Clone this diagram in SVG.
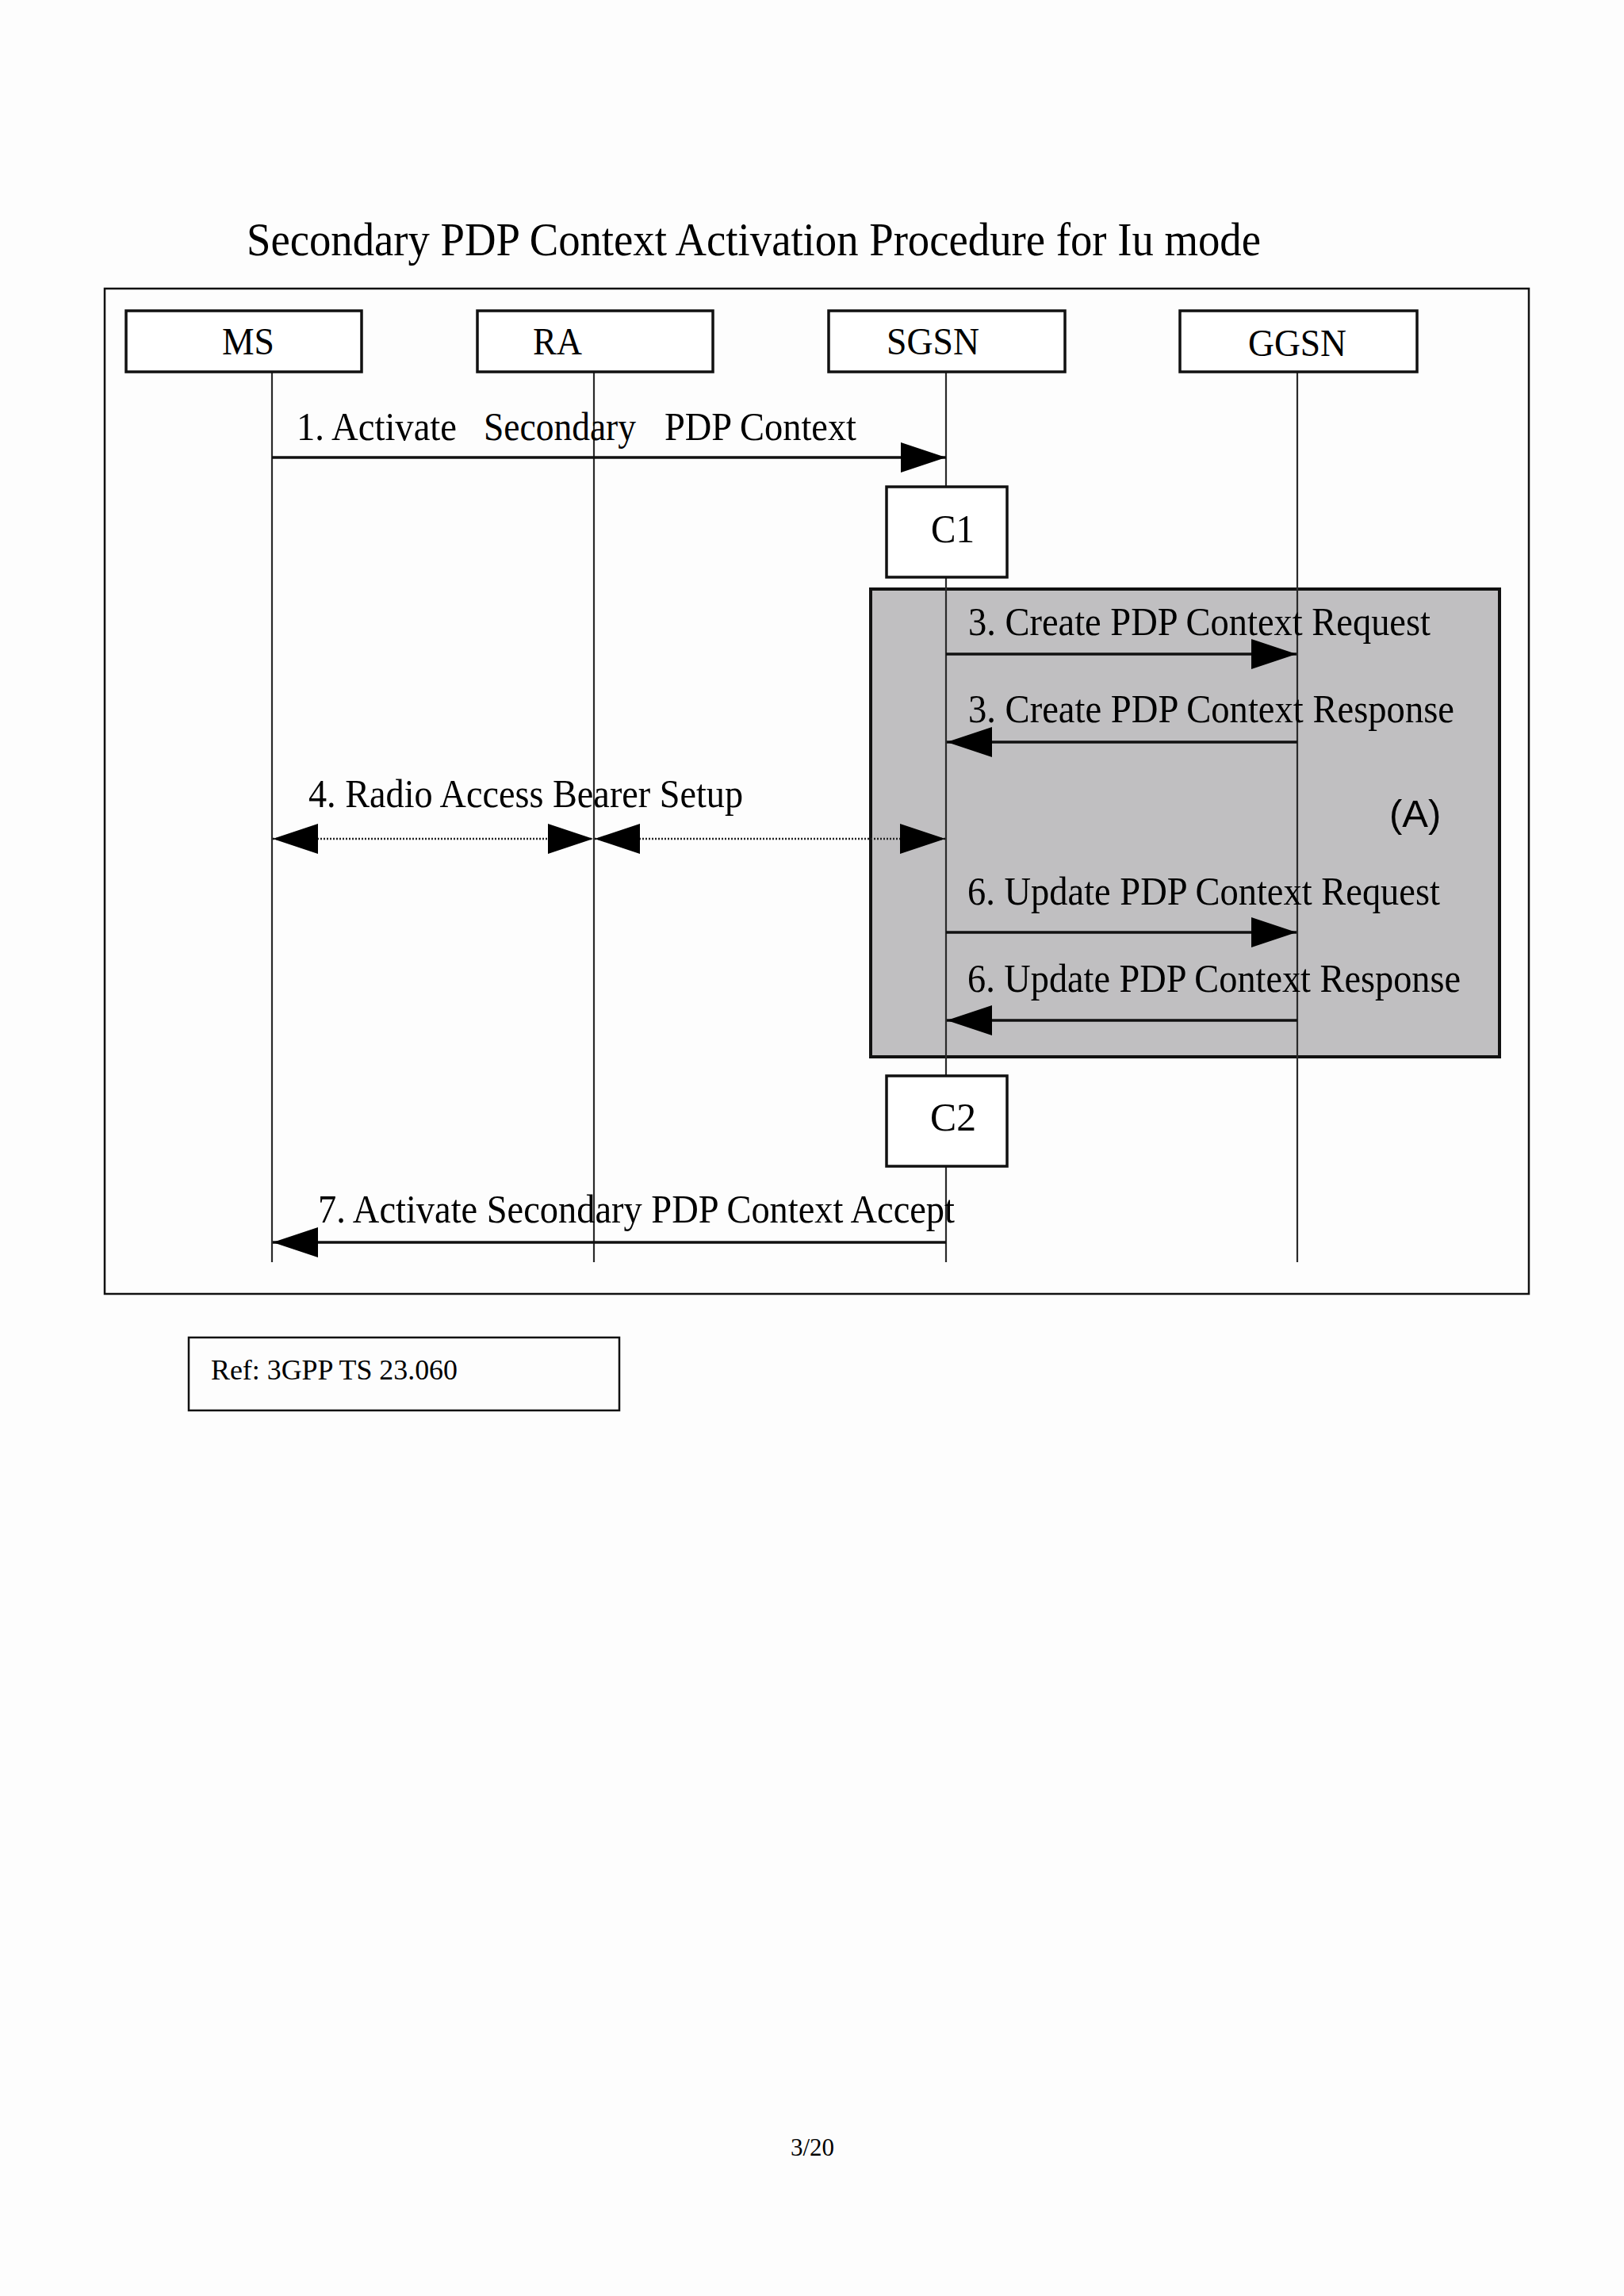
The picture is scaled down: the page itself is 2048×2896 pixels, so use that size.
<svg xmlns="http://www.w3.org/2000/svg" width="2048" height="2896" viewBox="0 0 2048 2896">
<style>
  .t { font-family: "Liberation Serif", "Times New Roman", serif; fill: #000; }
  .lbl { font-size: 50px; }
  .box { fill: #fff; stroke: #111; stroke-width: 3.5; }
  .life { stroke: #2a2a2a; stroke-width: 2.2; fill: none; }
  .msg { stroke: #111; stroke-width: 3.5; fill: none; }
  .dot { stroke: #222; stroke-width: 2.5; stroke-dasharray: 2 2; fill: none; }
</style>
<defs>
  <marker id="ah" markerUnits="userSpaceOnUse" markerWidth="58" markerHeight="40" refX="57" refY="19" orient="auto-start-reverse" viewBox="0 0 58 40">
    <path d="M0,0 L57,19 L0,38 Z" fill="#000"/>
  </marker>
</defs>
<rect x="0" y="0" width="2048" height="2896" fill="#fdfdfd"/>

<text id="title" class="t" x="311" y="322" font-size="59" textLength="1279" lengthAdjust="spacingAndGlyphs">Secondary PDP Context Activation Procedure for Iu mode</text>

<g id="frame">
  <rect x="132" y="364" width="1796" height="1268" fill="none" stroke="#111" stroke-width="2.5"/>
</g>

<g id="groupA">
  <rect x="1098" y="743" width="793" height="590" fill="#c0bfc1" stroke="#111" stroke-width="4"/>
  <text x="1752" y="1043" font-family="'Liberation Sans', Arial, sans-serif" font-size="49" fill="#000">(A)</text>
</g>

<g id="lifelines">
  <line class="life" x1="343" y1="469" x2="343" y2="1592"/>
  <line class="life" x1="749" y1="469" x2="749" y2="1592"/>
  <line class="life" x1="1193" y1="469" x2="1193" y2="1592"/>
  <line class="life" x1="1636" y1="469" x2="1636" y2="1592"/>
</g>

<g id="MS">
  <rect class="box" x="159" y="392" width="297" height="77"/>
  <text class="t" x="280" y="447" font-size="48" textLength="66" lengthAdjust="spacingAndGlyphs">MS</text>
</g>
<g id="RA">
  <rect class="box" x="602" y="392" width="297" height="77"/>
  <text class="t" x="672" y="447" font-size="48" textLength="62" lengthAdjust="spacingAndGlyphs">RA</text>
</g>
<g id="SGSN">
  <rect class="box" x="1045" y="392" width="298" height="77"/>
  <text class="t" x="1118" y="447" font-size="48" textLength="117" lengthAdjust="spacingAndGlyphs">SGSN</text>
</g>
<g id="GGSN">
  <rect class="box" x="1488" y="392" width="299" height="77"/>
  <text class="t" x="1574" y="449" font-size="48" textLength="124" lengthAdjust="spacingAndGlyphs">GGSN</text>
</g>
<g id="C1">
  <rect class="box" x="1118" y="614" width="152" height="114"/>
  <text class="t" x="1174" y="684" font-size="50" textLength="55" lengthAdjust="spacingAndGlyphs">C1</text>
</g>
<g id="C2">
  <rect class="box" x="1118" y="1357" width="152" height="114"/>
  <text class="t" x="1173" y="1426" font-size="50" textLength="58" lengthAdjust="spacingAndGlyphs">C2</text>
</g>

<g id="labels" class="t lbl">
  <text x="374" y="555" textLength="202" lengthAdjust="spacingAndGlyphs">1. Activate</text>
  <text x="610" y="555" textLength="192" lengthAdjust="spacingAndGlyphs">Secondary</text>
  <text x="838" y="555" textLength="242" lengthAdjust="spacingAndGlyphs">PDP Context</text>
  <text x="1221" y="801" textLength="583" lengthAdjust="spacingAndGlyphs">3. Create PDP Context Request</text>
  <text x="1221" y="911" textLength="613" lengthAdjust="spacingAndGlyphs">3. Create PDP Context Response</text>
  <text x="389" y="1018" textLength="548" lengthAdjust="spacingAndGlyphs">4. Radio Access Bearer Setup</text>
  <text x="1220" y="1141" textLength="596" lengthAdjust="spacingAndGlyphs">6. Update PDP Context Request</text>
  <text x="1220" y="1251" textLength="622" lengthAdjust="spacingAndGlyphs">6. Update PDP Context Response</text>
  <text x="401" y="1542" textLength="803" lengthAdjust="spacingAndGlyphs">7. Activate Secondary PDP Context Accept</text>
</g>

<g id="connectors">
  <line class="msg" x1="343" y1="577" x2="1193" y2="577" marker-end="url(#ah)"/>
  <line class="msg" x1="1193" y1="825" x2="1635" y2="825" marker-end="url(#ah)"/>
  <line class="msg" x1="1636" y1="936" x2="1194" y2="936" marker-end="url(#ah)"/>
  <line class="dot" x1="344" y1="1058" x2="748" y2="1058" marker-start="url(#ah)" marker-end="url(#ah)"/>
  <line class="dot" x1="750" y1="1058" x2="1192" y2="1058" marker-start="url(#ah)" marker-end="url(#ah)"/>
  <line class="msg" x1="1193" y1="1176" x2="1635" y2="1176" marker-end="url(#ah)"/>
  <line class="msg" x1="1636" y1="1287" x2="1194" y2="1287" marker-end="url(#ah)"/>
  <line class="msg" x1="1193" y1="1567" x2="344" y2="1567" marker-end="url(#ah)"/>
</g>

<g id="ref">
  <rect x="238" y="1687" width="543" height="92" fill="none" stroke="#111" stroke-width="2.5"/>
  <text class="t" x="266" y="1740" font-size="36" textLength="311" lengthAdjust="spacingAndGlyphs">Ref: 3GPP TS 23.060</text>
</g>

<text id="page" class="t" x="997" y="2719" font-size="31">3/20</text>
</svg>
